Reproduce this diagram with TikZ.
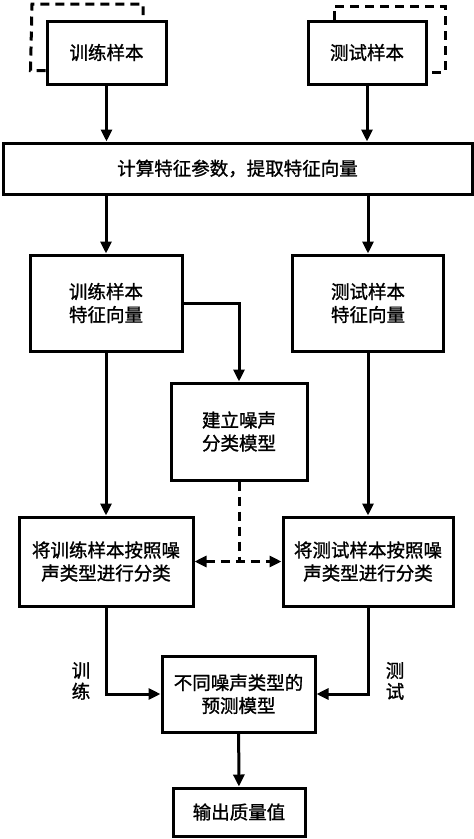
\documentclass[tikz,border=0pt]{standalone}
\usepackage{fontspec}
\setmainfont{Noto Sans CJK SC}[FakeBold=1.2]
\usetikzlibrary{positioning,arrows.meta}
\tikzset{line/.style={draw, -{Triangle[length=12pt,width=11pt]}}}
\tikzset{dline/.style={draw, dash pattern=on 9pt off 6pt}}

\begin{document}
\begin{tikzpicture}[x=1pt, y=-1pt, line width=3pt, font=\fontsize{18.5}{23}\selectfont,
  main/.style = {draw, rectangle, align=center, inner sep=0pt}]
\useasboundingbox (0,0) rectangle (474,839);
\node[main, minimum width=119pt, minimum height=63pt] (1) at (106.5,52.5) {训练样本};
\node[main, minimum width=118pt, minimum height=63pt] (2) at (367,52.5) {测试样本};
\node[main, minimum width=469pt, minimum height=51pt] (3) at (237.5,168.5) {计算特征参数，提取特征向量};
\node[main, minimum width=152pt, minimum height=96pt] (4) at (106,303) {训练样本\\特征向量};
\node[main, minimum width=151pt, minimum height=96pt] (5) at (368,303) {测试样本\\特征向量};
\node[main, minimum width=136pt, minimum height=97pt] (6) at (239,431.5) {建立噪声\\分类模型};
\node[main, minimum width=174pt, minimum height=89pt] (7) at (106,561.5) {将训练样本按照噪\\声类型进行分类};
\node[main, minimum width=170pt, minimum height=89pt] (8) at (368,561.5) {将测试样本按照噪\\声类型进行分类};
\node[main, minimum width=153pt, minimum height=76pt] (9) at (238.5,694) {不同噪声类型的\\预测模型};
\node[main, minimum width=132pt, minimum height=48pt] (10) at (239,812) {输出质量值};
\node[align=center, inner sep=0pt, font=\fontsize{18.5}{21}\selectfont] (11) at (81,681) {训\\练};
\node[align=center, inner sep=0pt, font=\fontsize{18.5}{21}\selectfont] (12) at (395,681) {测\\试};
% dashed outlines behind the sample boxes
\draw[dline] ([yshift=15pt]1.south west) -- ++(-15,0) -- (32,4) -- (143,4) -- (143,15);
\draw[dline] (334,20) -- (334,6) -- (445,6) -- (445,72) -- (2.east |- 445,72);
\draw[line] (1) -- (1 |- 3.north);
\draw[line] (2) -- (2 |- 3.north);
\draw[line] (4 |- 3.south) -- (4);
\draw[line] (5 |- 3.south) -- (5);
\draw[line] (4.east) -| (6.north);
\draw[line] (4) -- (7);
\draw[line] (5) -- (8);
\coordinate (m) at (6.south |- 7.east);
\draw[dline] (6) -- (m);
\draw[dline, {Triangle[length=12pt,width=11pt]}-{Triangle[length=12pt,width=11pt]}] (7.east) -- (8.west);
\draw[line] (7.south) |- (9.west);
\draw[line] (8.south) |- (9.east);
\draw[line] (9) -- (10);
\end{tikzpicture}
\end{document}
